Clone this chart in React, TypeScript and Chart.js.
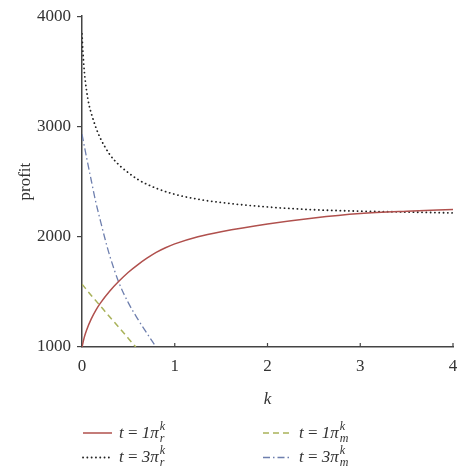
import React, { useEffect, useRef } from "react";
import { Chart, registerables, Plugin } from "chart.js";

Chart.register(...registerables);

// k values and profits
const kR1 = [0, 0.025, 0.05, 0.1, 0.15, 0.2, 0.3, 0.4, 0.5, 0.6, 0.7, 0.8, 0.9, 1, 1.25, 1.5, 2, 2.5, 3, 3.5, 4];
const profitR1 = [1000, 1090, 1155, 1255, 1335, 1400, 1508, 1598, 1678, 1745, 1805, 1858, 1900, 1935, 2000, 2045, 2115, 2170, 2210, 2232, 2248];

const kR3 = [0, 0.01, 0.025, 0.05, 0.075, 0.1, 0.15, 0.2, 0.3, 0.4, 0.5, 0.6, 0.8, 1, 1.25, 1.5, 2, 2.5, 3, 3.5, 4];
const profitR3 = [3840, 3680, 3500, 3320, 3200, 3120, 2990, 2890, 2745, 2650, 2580, 2520, 2440, 2385, 2340, 2310, 2270, 2245, 2232, 2224, 2216];

const kM1 = [0, 0.1, 0.2, 0.3, 0.4, 0.5, 0.58];
const profitM1 = [1570, 1468, 1370, 1272, 1176, 1078, 1000];

const kM3 = [0, 0.05, 0.1, 0.15, 0.2, 0.25, 0.3, 0.4, 0.5, 0.6, 0.7, 0.79];
const profitM3 = [2930, 2715, 2510, 2310, 2140, 1975, 1825, 1580, 1400, 1255, 1125, 1010];

const xTicks = [0, 1, 2, 3, 4];

const RED = "#b0504d";
const GREEN = "#a9b25a";
const BLUE = "#6e7fae";
const BLACK = "#222222";
const SERIF = "'Liberation Serif', 'DejaVu Serif', serif";

const legendItems = [
  { num: "1", sub: "r", color: RED, dash: [] as number[], width: 1.5, cap: "butt" as CanvasLineCap, col: 0, row: 0 },
  { num: "1", sub: "m", color: GREEN, dash: [6, 4], width: 1.5, cap: "butt" as CanvasLineCap, col: 1, row: 0 },
  { num: "3", sub: "r", color: BLACK, dash: [0.1, 4.2], width: 1.8, cap: "round" as CanvasLineCap, col: 0, row: 1 },
  { num: "3", sub: "m", color: BLUE, dash: [7, 3, 1.5, 3], width: 1.3, cap: "butt" as CanvasLineCap, col: 1, row: 1 },
];

const toPoints = (ks: number[], vs: number[]) => ks.map((k, i) => ({ x: k, y: vs[i] }));

// inward tick marks on the k axis + the legend under the plot
const extras: Plugin<"line"> = {
  id: "extras",
  afterDraw(chart) {
    const { ctx, chartArea } = chart;
    const xs = chart.scales.x;
    ctx.save();
    ctx.strokeStyle = "#444";
    ctx.lineWidth = 1.2;
    xTicks.slice(1).forEach((v) => {
      const px = xs.getPixelForValue(v);
      ctx.beginPath();
      ctx.moveTo(px, chartArea.bottom);
      ctx.lineTo(px, chartArea.bottom - 4);
      ctx.stroke();
    });

    const lineX = [83, 263];
    const textX = [119, 299];
    const rowY = [433, 457.5];
    legendItems.forEach((it) => {
      const y = rowY[it.row];
      ctx.strokeStyle = it.color;
      ctx.lineWidth = it.width;
      ctx.lineCap = it.cap;
      ctx.setLineDash(it.dash);
      ctx.beginPath();
      ctx.moveTo(lineX[it.col], y);
      ctx.lineTo(lineX[it.col] + 29, y);
      ctx.stroke();
      ctx.setLineDash([]);

      const base = y + 4.5;
      let x = textX[it.col];
      ctx.fillStyle = "#333";
      ctx.textBaseline = "alphabetic";
      ctx.textAlign = "left";
      ctx.font = `italic 17px ${SERIF}`;
      ctx.fillText("t", x, base);
      x += ctx.measureText("t").width;
      ctx.font = `17px ${SERIF}`;
      ctx.fillText(" = ", x, base);
      x += ctx.measureText(" = ").width;
      ctx.font = `italic 17px ${SERIF}`;
      const main = it.num + "π";
      ctx.fillText(main, x, base);
      x += ctx.measureText(main).width + 1;
      ctx.font = `italic 12px ${SERIF}`;
      ctx.fillText("k", x, base - 8);
      ctx.fillText(it.sub, x, base + 4);
    });
    ctx.restore();
  },
};

export default function App() {
  const canvasRef = useRef<HTMLCanvasElement>(null);

  useEffect(() => {
    if (!canvasRef.current) return;
    const ctx = canvasRef.current.getContext("2d")!;

    const chart = new Chart(ctx, {
      type: "line",
      data: {
        datasets: [
          {
            label: "t = 1π_r^k",
            data: toPoints(kR1, profitR1),
            borderColor: RED,
            borderWidth: 1.5,
          },
          {
            label: "t = 3π_r^k",
            data: toPoints(kR3, profitR3),
            borderColor: BLACK,
            borderWidth: 1.8,
            borderDash: [0.1, 4.2],
            borderCapStyle: "round",
          },
          {
            label: "t = 1π_m^k",
            data: toPoints(kM1, profitM1),
            borderColor: GREEN,
            borderWidth: 1.5,
            borderDash: [6, 4],
          },
          {
            label: "t = 3π_m^k",
            data: toPoints(kM3, profitM3),
            borderColor: BLUE,
            borderWidth: 1.3,
            borderDash: [7, 3, 1.5, 3],
          },
        ],
      },
      options: {
        animation: false,
        responsive: true,
        maintainAspectRatio: false,
        elements: {
          point: { radius: 0 },
          line: { cubicInterpolationMode: "monotone", fill: false },
        },
        layout: { padding: { left: 0, top: 14, right: 21, bottom: 64 } },
        plugins: { legend: { display: false }, tooltip: { enabled: false } },
        scales: {
          x: {
            type: "linear",
            min: 0,
            max: 4,
            afterFit: (s) => {
              s.height = 63;
            },
            afterBuildTicks: (s) => {
              s.ticks = xTicks.map((v) => ({ value: v }));
            },
            grid: { display: false, drawTicks: false },
            border: { display: true, color: "#444", width: 1.5 },
            ticks: {
              color: "#333",
              padding: 9,
              font: { family: SERIF, size: 17 },
              callback: (v) => String(v),
            },
            title: {
              display: true,
              text: "k",
              color: "#333",
              padding: 0,
              font: { family: SERIF, size: 17, style: "italic" },
            },
          },
          y: {
            type: "linear",
            min: 1000,
            max: 4000,
            afterFit: (s) => {
              s.width = 82;
            },
            ticks: {
              stepSize: 1000,
              color: "#333",
              padding: 6,
              font: { family: SERIF, size: 17 },
              callback: (v) => String(v),
            },
            grid: { display: true, drawOnChartArea: false, drawTicks: true, tickLength: 5, color: "#444", lineWidth: 1.2 },
            border: { display: true, color: "#444", width: 1.5 },
            title: {
              display: true,
              text: "profit",
              color: "#333",
              padding: { top: 15, bottom: 0 },
              font: { family: SERIF, size: 17 },
            },
          },
        },
      },
      plugins: [extras],
    });

    return () => chart.destroy();
  }, []);

  return (
    <div style={{ position: "absolute", left: 0, top: 0, width: 474, height: 474, background: "#fff" }}>
      <canvas ref={canvasRef} />
    </div>
  );
}
